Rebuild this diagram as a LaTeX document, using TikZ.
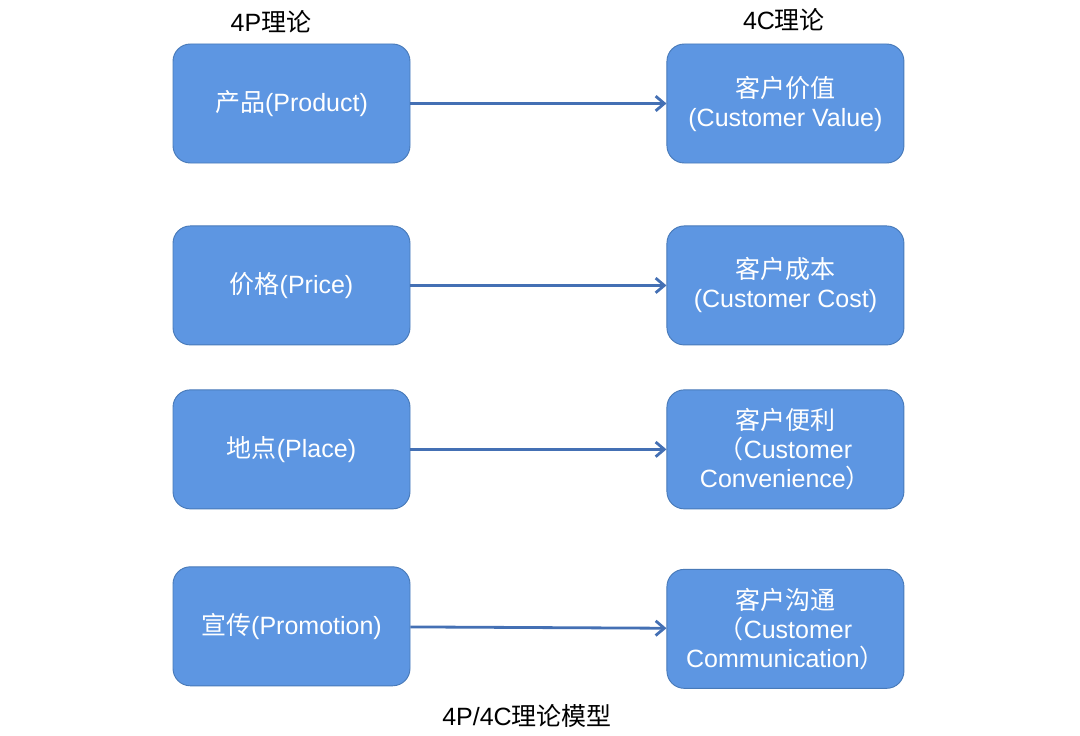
\documentclass[tikz,border=0pt]{standalone}
\usepackage{fontspec}
\setmainfont{Liberation Sans}
\newfontfamily\cjk{Noto Sans CJK SC}
\usetikzlibrary{arrows.meta,positioning}
\definecolor{boxfill}{RGB}{93,150,226}
\definecolor{boxline}{RGB}{72,122,185}
\definecolor{arrowline}{RGB}{68,112,180}

\begin{document}
\begin{tikzpicture}[x=0.75pt,y=-0.75pt,->,>={Straight Barb[length=6.5pt,width=11pt]},
    node distance=192pt,
    model box/.style={rectangle,rounded corners=13pt,draw=boxline,line width=0.7pt,fill=boxfill,
      text=white,font=\fontsize{18.75}{21.75}\selectfont,align=center,
      minimum width=177.75pt,minimum height=89.25pt,inner sep=0pt},
    title text/.style={font=\fontsize{18.75}{21.75}\selectfont,inner sep=0pt},
    link/.style={draw=arrowline,line width=2.1pt}]

  \useasboundingbox (0,0) rectangle (1080,735);

  \node[model box] (p1) at (291.5,103.5) {{\cjk 产品}(Product)};
  \node[model box] (p2) [below=46.5pt of p1] {{\cjk 价格}(Price)};
  \node[model box] (p3) [below=33pt of p2] {{\cjk 地点}(Place)};
  \node[model box] (p4) [below=42.75pt of p3] {{\cjk 宣传}(Promotion)};

  \node[model box] (c1) [right=192pt of p1] {{\cjk 客户价值}\\(Customer Value)};
  \node[model box] (c2) [right=192pt of p2] {{\cjk 客户成本}\\(Customer Cost)};
  \node[model box] (c3) [right=192pt of p3] {{\cjk 客户便利}\\{\cjk （}Customer\\Convenience{\cjk ）}};
  \node[model box] (c4) [right=192pt of p4,yshift=-1.9pt] {{\cjk 客户沟通}\\{\cjk （}Customer\\Communication{\cjk ）}};

  \node[title text] (ptitle) at (271,22) {4P{\cjk 理论}};
  \node[title text] (ctitle) at (784,20) {4C{\cjk 理论}};
  \node[title text] (caption) at (527,716) {4P/4C{\cjk 理论模型}};

  \path[link]
        (p1) edge (c1)
        (p2) edge (c2)
        (p3) edge (c3)
        (p4) edge (c4);

\end{tikzpicture}
\end{document}
